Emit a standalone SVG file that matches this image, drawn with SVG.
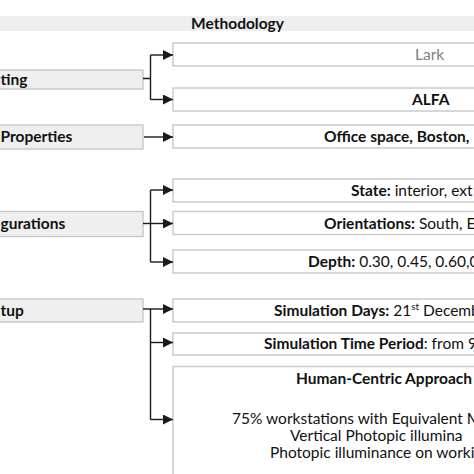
<svg xmlns="http://www.w3.org/2000/svg" width="474" height="474" viewBox="0 0 474 474">
<defs>
<marker id="ah" viewBox="0 0 10 10" refX="10" refY="5" markerWidth="10" markerHeight="10" markerUnits="userSpaceOnUse" orient="auto">
<path d="M0,0 L10,5 L0,10 Z" fill="#1a1a1a"/>
</marker>
</defs>
<style>
text{font-family:"Lato","Liberation Sans",sans-serif;font-size:15.5px;fill:#111}
.b{font-weight:bold}
.l{fill:#efefef;stroke:#c8c8c8;stroke-width:1.4}
.r{fill:#fff;stroke:#c8c8c8;stroke-width:1.4}
.c{fill:none;stroke:#1a1a1a;stroke-width:1.4}
.a{fill:none;stroke:#1a1a1a;stroke-width:1.4;marker-end:url(#ah)}
</style>
<rect width="474" height="474" fill="#fff"/>
<g id="header">
<rect x="-2" y="16" width="478" height="15" fill="#efefef"/>
<text class="b" x="237.5" y="28.5" text-anchor="middle">Methodology</text>
</g>
<g id="setting">
<rect class="l" x="-10" y="70" width="153" height="19"/>
<text class="b" x="0.5" y="85">ting</text>
</g>
<g id="properties">
<rect class="l" x="-10" y="125" width="153" height="24"/>
<text class="b" x="0.5" y="142">Properties</text>
</g>
<g id="configurations">
<rect class="l" x="-10" y="211.5" width="153" height="25"/>
<text class="b" x="0.5" y="229">gurations</text>
</g>
<g id="setup">
<rect class="l" x="-10" y="299" width="153" height="23"/>
<text class="b" x="0.5" y="316">tup</text>
</g>
<g id="lark">
<rect class="r" x="173" y="43" width="320" height="23"/>
<text x="415" y="60" style="fill:#808080">Lark</text>
</g>
<g id="alfa">
<rect class="r" x="173" y="88" width="320" height="23"/>
<text class="b" x="412" y="105">ALFA</text>
</g>
<g id="office">
<rect class="r" x="173" y="125" width="320" height="23"/>
<text class="b" x="324" y="142">Office space, Boston,</text>
</g>
<g id="state">
<rect class="r" x="173" y="179" width="320" height="23"/>
<text x="351" y="196"><tspan class="b">State:</tspan> interior, ext</text>
</g>
<g id="orientations">
<rect class="r" x="173" y="211.5" width="320" height="23"/>
<text x="324" y="228.5"><tspan class="b">Orientations:</tspan> South, E</text>
</g>
<g id="depth">
<rect class="r" x="173" y="250" width="320" height="23"/>
<text x="308" y="267"><tspan class="b">Depth:</tspan> 0.30, 0.45, 0.60,0</text>
</g>
<g id="simdays">
<rect class="r" x="173" y="299" width="320" height="23"/>
<text x="274" y="316"><tspan class="b">Simulation Days:</tspan> 21<tspan font-size="10" dy="-6">st</tspan><tspan dy="6"> Decemb</tspan></text>
</g>
<g id="simtime">
<rect class="r" x="173" y="333" width="320" height="22"/>
<text x="264" y="349"><tspan class="b">Simulation Time Period</tspan>: from 9</text>
</g>
<g id="humancentric">
<rect class="r" x="173" y="366.5" width="320" height="120"/>
<text class="b" x="296" y="384">Human-Centric Approach</text>
<text x="232" y="424">75% workstations with Equivalent M</text>
<text x="290" y="441">Vertical Photopic illumina</text>
<text x="270" y="458">Photopic illuminance on worki</text>
</g>
<g id="connectors">
<path class="c" d="M143,78.5 H150.5 M150.5,55 V99.5"/>
<path class="a" d="M150.5,55 H173"/>
<path class="a" d="M150.5,99.5 H173"/>
<path class="a" d="M144,137 H173"/>
<path class="c" d="M150.5,190 V262"/>
<path class="a" d="M150.5,190 H173"/>
<path class="a" d="M143,223.5 H173"/>
<path class="a" d="M150.5,262 H173"/>
<path class="c" d="M150.5,309 V419.5"/>
<path class="a" d="M143,309 H173"/>
<path class="a" d="M150.5,342.5 H173"/>
<path class="a" d="M150.5,419.5 H173"/>
</g>
</svg>
